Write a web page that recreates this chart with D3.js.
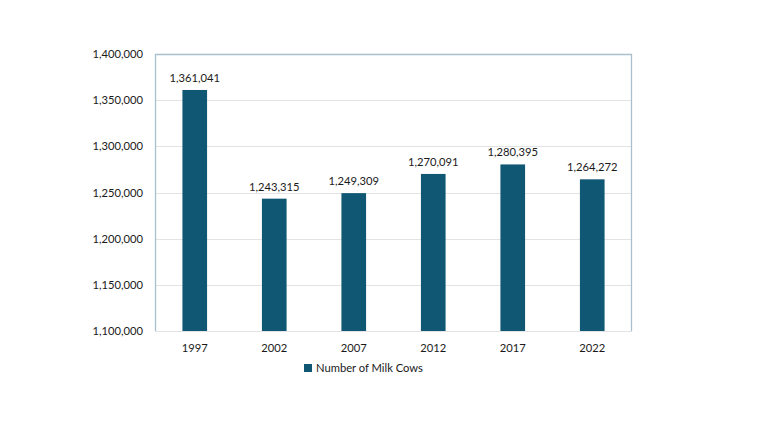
<!DOCTYPE html>
<html>
<head>
<meta charset="utf-8">
<script src="https://cdn.jsdelivr.net/npm/d3@7"></script>
<style>
  body { margin: 0; background: #fff; }
  svg text { font-family: Lato, "Open Sans", sans-serif; fill: #1a1a1a; }
</style>
</head>
<body>
<svg width="768" height="430"></svg>
<script>
// ### Data ###
var years = ['1997', '2002', '2007', '2012', '2017', '2022'];
var cows = [1361041, 1243315, 1249309, 1270091, 1280395, 1264272];
var yTicks = [1100000, 1150000, 1200000, 1250000, 1300000, 1350000, 1400000];
var seriesName = 'Number of Milk Cows';

// ### Setting up canvas ###
var margin = {top: 54, right: 136, bottom: 99, left: 155};
var width = 768 - margin.left - margin.right;
var height = 430 - margin.top - margin.bottom;
var barColor = '#0f5773';
var fontSize = 11.2;

var svg = d3.select('svg');
var g = svg.append('g').attr('transform', `translate(${margin.left},${margin.top})`);

// ### Scales ###
var xScale = d3.scaleBand()
  .domain(years)
  .range([0, width])
  .paddingInner(0.69)
  .paddingOuter(0.345);
var yScale = d3.scaleLinear()
  .domain([1100000, 1400000])
  .range([height, 0]);

var fmt = d3.format(',');

// gridlines
g.selectAll('line.grid')
  .data(yTicks)
  .enter()
  .append('line')
  .attr('x1', 0)
  .attr('x2', width)
  .attr('y1', d => Math.round(yScale(d)) + 0.5)
  .attr('y2', d => Math.round(yScale(d)) + 0.5)
  .attr('stroke', '#e3e3e3')
  .attr('stroke-width', 1);

// frame (top, right, left)
g.append('path')
  .attr('d', `M0.5,${height} V0.5 H${width - 0.5} V${height}`)
  .attr('fill', 'none')
  .attr('stroke', '#a7c0cb')
  .attr('stroke-width', 1.3);

// ### Bars ###
g.selectAll('rect.bar')
  .data(cows)
  .enter()
  .append('rect')
  .attr('x', (d, i) => xScale(years[i]))
  .attr('y', d => yScale(d))
  .attr('width', xScale.bandwidth())
  .attr('height', d => height - yScale(d))
  .attr('fill', barColor);

// value labels
g.selectAll('text.val')
  .data(cows)
  .enter()
  .append('text')
  .attr('x', (d, i) => xScale(years[i]) + xScale.bandwidth() / 2)
  .attr('y', d => yScale(d) - 8)
  .attr('text-anchor', 'middle')
  .attr('font-size', fontSize)
  .text(d => fmt(d));

// ### Axis ###
var yAxis = d3.axisLeft(yScale).tickValues(yTicks).tickFormat(fmt).tickSize(0).tickPadding(12);
var yG = g.append('g').call(yAxis);
yG.select('.domain').remove();
yG.selectAll('text').attr('font-size', fontSize).attr('fill', '#1a1a1a').style('font-family', 'Lato, "Open Sans", sans-serif');

var xAxis = d3.axisBottom(xScale).tickSize(0).tickPadding(13);
var xG = g.append('g').attr('transform', `translate(0,${height})`).call(xAxis);
xG.select('.domain').remove();
xG.selectAll('text').attr('font-size', fontSize).attr('fill', '#1a1a1a').style('font-family', 'Lato, "Open Sans", sans-serif');

// ### Legend ###
var legend = svg.append('g').attr('transform', 'translate(304,364)');
legend.append('rect')
  .attr('width', 8)
  .attr('height', 8)
  .attr('fill', barColor);
legend.append('text')
  .attr('x', 12)
  .attr('y', 8)
  .attr('font-size', fontSize)
  .text(seriesName);
</script>
</body>
</html>
